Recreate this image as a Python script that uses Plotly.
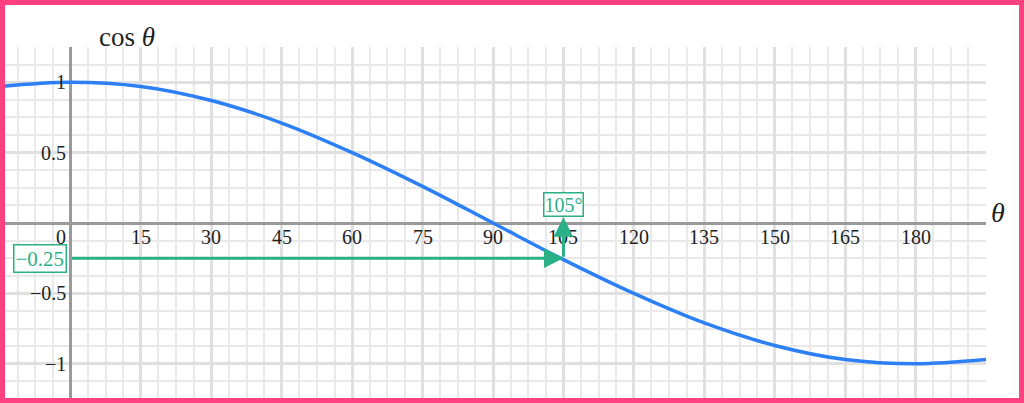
import plotly.graph_objects as go

# curve values (degrees -> cos value)
theta = [-15, 0, 15, 30, 45, 60, 75, 90, 105, 120, 135, 150, 165, 180, 195]
cos_vals = [0.97, 1.0, 0.97, 0.87, 0.71, 0.5, 0.26, 0.0, -0.26, -0.5, -0.71, -0.87, -0.97, -1.0, -0.97]

x_ticks = [15, 30, 45, 60, 75, 90, 105, 120, 135, 150, 165, 180]
y_ticks = [1, 0.5, -0.5, -1]
y_tick_text = ["1", "0.5", "\u22120.5", "\u22121"]

angle = 105
cos_read = -0.25

BLUE = "#2c7ff5"
GREEN = "#2bb085"
PINK = "#ff4081"
AXIS = "#9a9a9a"
SERIF = "Liberation Serif"
TICK_FONT = dict(family=SERIF, size=20, color="#222")

fig = go.Figure()

fig.add_trace(go.Scatter(
    x=theta, y=cos_vals,
    mode="lines",
    line=dict(color=BLUE, width=3.5, shape="spline", smoothing=1.0),
    hoverinfo="skip",
    showlegend=False,
))

annotations = []

# tick labels sitting on the zero lines
annotations.append(dict(x=0, y=0, text="0", showarrow=False, xanchor="right", yanchor="top",
                        xshift=-2, yshift=-1, font=TICK_FONT))
for t in x_ticks:
    annotations.append(dict(x=t, y=0, text=str(t), showarrow=False, yanchor="top",
                            yshift=-1, font=TICK_FONT))
for v, s in zip(y_ticks, y_tick_text):
    annotations.append(dict(x=0, y=v, text=s, showarrow=False, xanchor="right",
                            xshift=-2, font=TICK_FONT))

# axis titles
annotations.append(dict(xref="paper", yref="paper", x=0.098, y=1.077, text="cos <i>θ</i>",
                        showarrow=False, font=dict(family=SERIF, size=27, color="#222")))
annotations.append(dict(xref="paper", yref="paper", x=1.021, y=0.53, text="<i>θ</i>",
                        showarrow=False, font=dict(family=SERIF, size=28, color="#222")))

# green reading arrows
annotations.append(dict(x=angle, y=cos_read, ax=0, ay=cos_read, axref="x", ayref="y",
                        text="", showarrow=True, arrowhead=2, arrowsize=1.3,
                        arrowwidth=3, arrowcolor=GREEN))
annotations.append(dict(x=angle, y=0.04, ax=angle, ay=cos_read, axref="x", ayref="y",
                        text="", showarrow=True, arrowhead=2, arrowsize=1.3,
                        arrowwidth=3, arrowcolor=GREEN))

# value boxes
annotations.append(dict(x=0, y=cos_read, text="\u22120.25", showarrow=False, xanchor="right",
                        xshift=-3, bgcolor="white", bordercolor=GREEN, borderwidth=1.5,
                        borderpad=1, font=dict(family=SERIF, size=21, color=GREEN)))
annotations.append(dict(x=angle, y=0, text=f"{angle}°", showarrow=False, yanchor="bottom",
                        yshift=6, bgcolor="white", bordercolor=GREEN, borderwidth=1.5,
                        borderpad=0, font=dict(family=SERIF, size=20, color=GREEN)))

fig.update_layout(
    width=1024, height=403,
    margin=dict(l=0, r=38, t=47, b=4),
    paper_bgcolor="white",
    plot_bgcolor="white",
    showlegend=False,
    annotations=annotations,
    xaxis=dict(
        range=[-15, 195], tick0=0, dtick=15,
        showticklabels=False, ticks="",
        showgrid=True, gridcolor="#e0e0e0", gridwidth=3,
        minor=dict(tick0=0, dtick=3.75, showgrid=True, gridcolor="#e9e9e9", gridwidth=2),
        zeroline=True, zerolinecolor=AXIS, zerolinewidth=3,
        showline=False, fixedrange=True,
    ),
    yaxis=dict(
        range=[-1.25, 1.25], tick0=0, dtick=0.5,
        showticklabels=False, ticks="",
        showgrid=True, gridcolor="#e0e0e0", gridwidth=3,
        minor=dict(tick0=0, dtick=0.125, showgrid=True, gridcolor="#e9e9e9", gridwidth=2),
        zeroline=True, zerolinecolor=AXIS, zerolinewidth=3,
        showline=False, fixedrange=True,
    ),
    shapes=[dict(
        type="rect", xref="paper", yref="paper",
        x0=2.5 / 986, x1=(1024 - 2.5) / 986,
        y0=-1.5 / 352, y1=1 + 44.5 / 352,
        line=dict(color=PINK, width=5), layer="above",
    )],
)

# the page has an 8px body margin by default, drop it so the figure fills the window
fig.write_html("out.html", config={"displayModeBar": False},
               post_script="document.body.style.margin='0';")
